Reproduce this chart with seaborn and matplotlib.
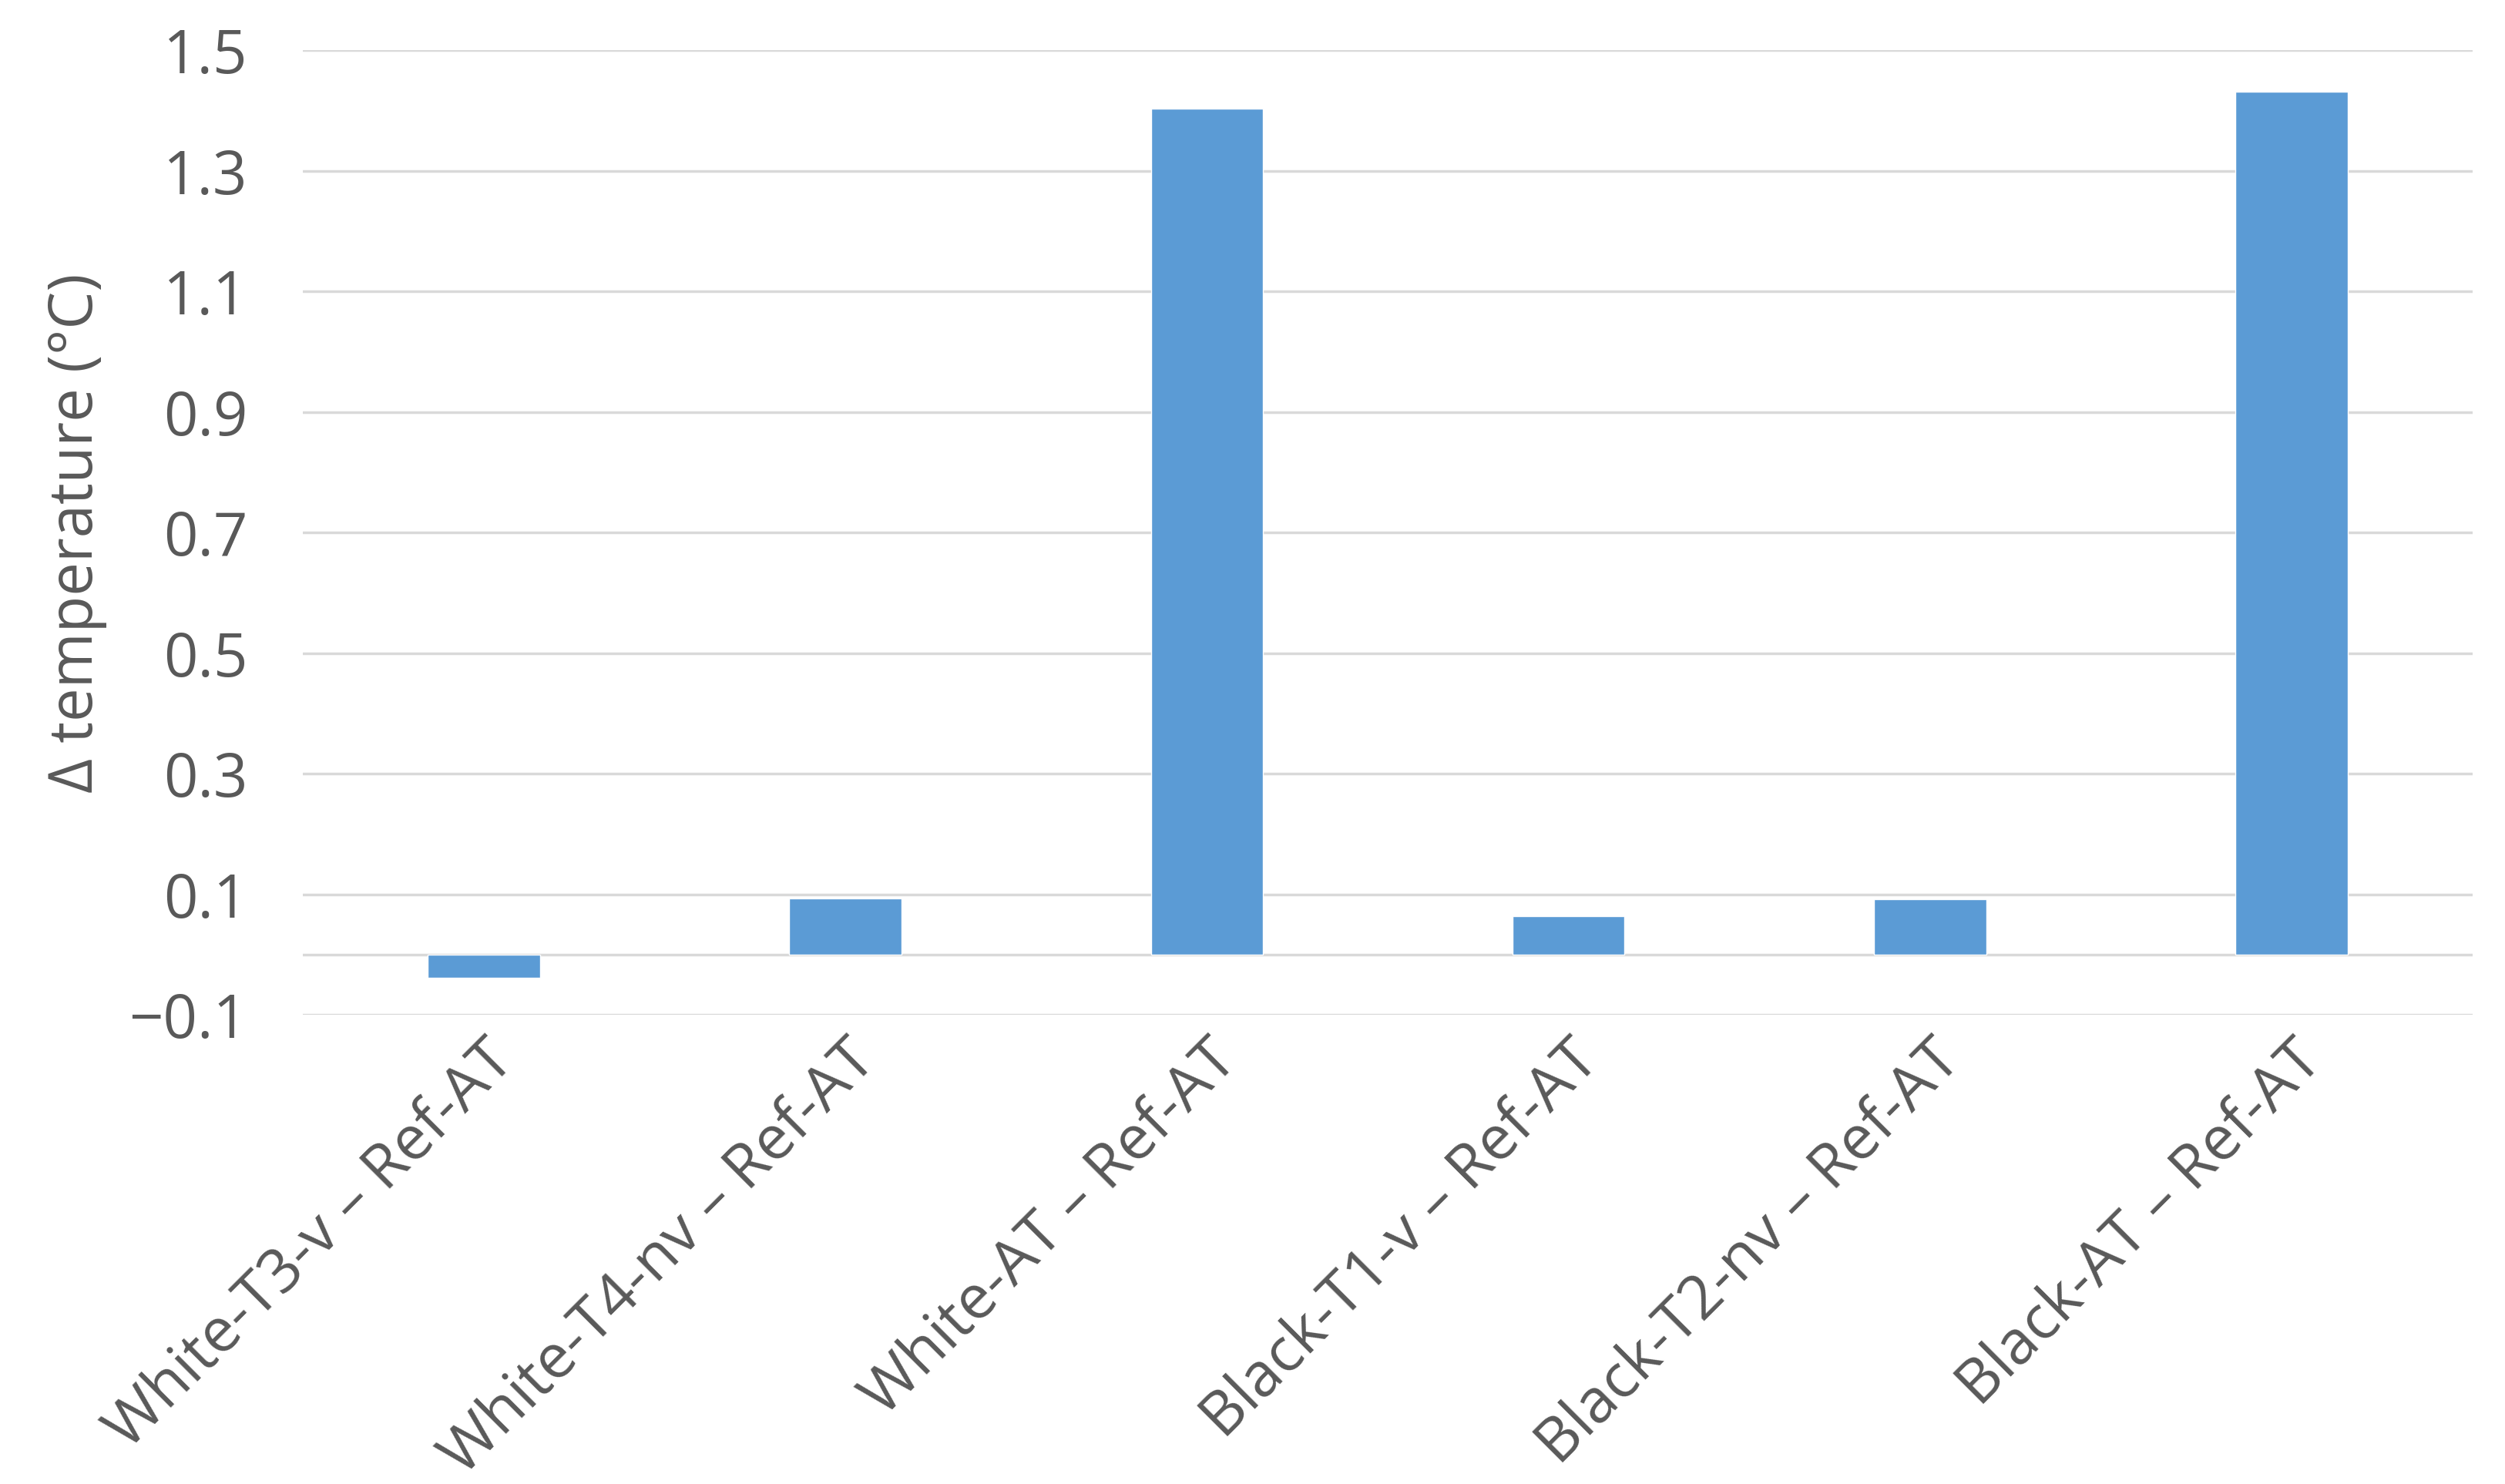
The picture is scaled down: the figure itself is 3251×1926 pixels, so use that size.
import pandas as pd
import seaborn as sns
import matplotlib.pyplot as plt

# data
categories = ["White-T3-v – Ref-AT", "White-T4-nv – Ref-AT", "White-AT – Ref-AT",
              "Black-T1-v – Ref-AT", "Black-T2-nv – Ref-AT", "Black-AT – Ref-AT"]
delta_temp = [-0.038, 0.093, 1.404, 0.064, 0.092, 1.432]
y_ticks = [-0.1, 0.1, 0.3, 0.5, 0.7, 0.9, 1.1, 1.3, 1.5]

df = pd.DataFrame({"Comparison": categories, "Delta": delta_temp})

sns.set_style("white")
plt.rcParams["font.family"] = ["Open Sans", "DejaVu Sans"]

fig = plt.figure(figsize=(32.51, 19.26), dpi=100)
ax = fig.add_axes([0.121, 0.316, 0.866, 0.650])

sns.barplot(data=df, x="Comparison", y="Delta", color="#5B9BD5",
            saturation=1, width=0.31, ax=ax, zorder=3)

ax.set_ylim(-0.1, 1.5)
ax.set_xlim(-0.5, 5.5)
ax.set_yticks(y_ticks)
ax.set_yticklabels([f"{t:.1f}".replace("-", "\u2212") for t in y_ticks])
ax.yaxis.grid(True, color="#d9d9d9", linewidth=2.5, zorder=0)
ax.axhline(0, color="#d9d9d9", linewidth=2.5, zorder=2)
for s in ax.spines.values():
    s.set_visible(False)

ax.tick_params(axis="y", labelsize=56, colors="#595959", length=0, pad=52)
ax.tick_params(axis="x", labelsize=57, colors="#595959", length=0, pad=14)
plt.setp(ax.get_xticklabels(), rotation=45, ha="right", rotation_mode="anchor")

ax.set_xlabel("")
ax.set_ylabel("Δ temperature (°C)", fontsize=56, color="#595959", labelpad=20)

plt.savefig("out.png", dpi=100)
